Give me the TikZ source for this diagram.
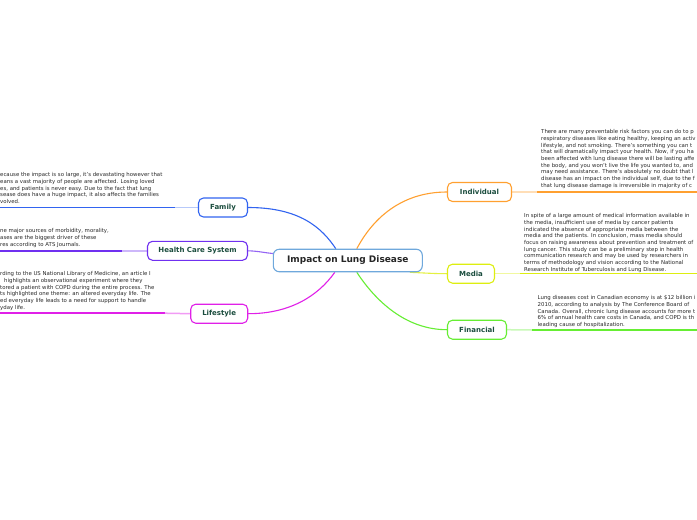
\documentclass[tikz,border=0pt]{standalone}
\usepackage{fontspec}
\setmainfont{DejaVu Sans}
\usetikzlibrary{backgrounds}
\definecolor{famc}{HTML}{3264F0}
\definecolor{hcsc}{HTML}{7030F0}
\definecolor{lifc}{HTML}{E020E8}
\definecolor{indc}{HTML}{FFA030}
\definecolor{medc}{HTML}{DDEE10}
\definecolor{finc}{HTML}{66EE33}
\definecolor{cblue}{HTML}{6FA8DC}
\definecolor{tgreen}{HTML}{1B4D3E}
\definecolor{ntext}{HTML}{2A2A2A}
\begin{document}
\begin{tikzpicture}[x=1pt,y=-1pt,
  topic/.style={draw, rounded corners=5pt, fill=white, line width=1.1pt, inner sep=0pt,
    minimum height=19pt, font=\fontsize{7}{8}\selectfont\bfseries, text=tgreen},
  central/.style={draw=cblue, rounded corners=6pt, fill=white, line width=1.1pt, inner sep=0pt,
    minimum width=149pt, minimum height=22.5pt, font=\fontsize{9}{10}\selectfont\bfseries, text=black!85},
  note/.style={anchor=north west, inner sep=0pt, align=left,
    font=\fontsize{5.4}{6.7}\selectfont, text=ntext},
  link/.style={line width=1.1pt},
  uline/.style={line width=1.5pt}]
\useasboundingbox (0,0) rectangle (697,520);
\clip (0,0) rectangle (697,520);

% nodes
\node[central] (c) at (347.8,260.5) {Impact on Lung Disease};
\node[topic, draw=famc, minimum width=49pt] (fam) at (223,207.5) {Family};
\node[topic, draw=hcsc, minimum width=100pt] (hcs) at (197.5,250.8) {Health Care System};
\node[topic, draw=lifc, minimum width=57pt] (lif) at (219.2,313.7) {Lifestyle};
\node[topic, draw=indc, minimum width=64pt] (ind) at (479.5,192) {Individual};
\node[topic, draw=medc, minimum width=47pt] (med) at (471,273.7) {Media};
\node[topic, draw=finc, minimum width=59pt] (fin) at (477,329.7) {Financial};

% texts
\node[note] (tfam) at (0,172.4) {ecause the impact is so large, it's devastating however that\\
eans a vast majority of people are affected. Losing loved\\
es, and patients is never easy. Due to the fact that lung\\
sease does have a huge impact, it also affects the families\\
volved.};
\node[note] (thcs) at (0,228.4) {ne major sources of morbidity, morality,\\
ases are the biggest driver of these\\
res according to ATS Journals.};
\node[note] (tlif) at (0,271.4) {rding to the US National Library of Medicine, an article I\\
\hspace*{4pt}highlights an observational experiment where they\\
tored a patient with COPD during the entire process. The\\
ts highlighted one theme: an altered everyday life. The\\
ed everyday life leads to a need for support to handle\\
yday life.};
\node[note] (tind) at (541,129.4) {There are many preventable risk factors you can do to p\\
respiratory diseases like eating healthy, keeping an activ\\
lifestyle, and not smoking. There's something you can t\\
that will dramatically impact your health. Now, if you ha\\
been affected with lung disease there will be lasting affe\\
the body, and you won't live the life you wanted to, and\\
may need assistance. There's absolutely no doubt that l\\
disease has an impact on the individual self, due to the f\\
that lung disease damage is irreversible in majority of c};
\node[note] (tmed) at (524,213.4) {In spite of a large amount of medical information available in\\
the media, insufficient use of media by cancer patients\\
indicated the absence of appropriate media between the\\
media and the patients. In conclusion, mass media should\\
focus on raising awareness about prevention and treatment of\\
lung cancer. This study can be a preliminary step in health\\
communication research and may be used by researchers in\\
terms of methodology and vision according to the National\\
Research Institute of Tuberculosis and Lung Disease.};
\node[note] (tfin) at (537.5,295.4) {Lung diseases cost in Canadian economy is at \$12 billion i\\
2010, according to analysis by The Conference Board of\\
Canada. Overall, chronic lung disease accounts for more t\\
6\% of annual health care costs in Canada, and COPD is th\\
leading cause of hospitalization.};

% underline coordinates
\coordinate (fa1) at (0,207.5);   \coordinate (fa2) at (175,207.5);
\coordinate (ha1) at (0,250.8);   \coordinate (ha2) at (122,250.8);
\coordinate (la1) at (0,313.2);   \coordinate (la2) at (165,313.2);
\coordinate (ia1) at (537,192);   \coordinate (ia2) at (697,192);
\coordinate (ma1) at (520,273.7); \coordinate (ma2) at (697,273.7);
\coordinate (fi1) at (532,330);   \coordinate (fi2) at (697,330);

\begin{scope}[on background layer]
\fill[white] (0,0) rectangle (697,520);
% connectors
\draw[link, famc] ([xshift=-12pt]c.north) .. controls (322,228) and (300,207.5) .. (fam.east);
\draw[link, hcsc!75] (hcs.east) .. controls (258,251) and (266,253) .. ([yshift=7pt]c.west);
\draw[link, lifc] ([xshift=-13pt]c.south) .. controls (318,296) and (290,313.7) .. (lif.east);
\draw[link, indc] ([xshift=9pt]c.north) .. controls (372,220) and (400,192) .. (ind.west);
\draw[link, medc!80] ([xshift=62pt]c.south) .. controls (425,273) and (435,273.7) .. (med.west);
\draw[link, finc] ([xshift=9pt]c.south) .. controls (375,300) and (405,329.7) .. (fin.west);
% underlines
\draw[uline, famc] (fa1) -- (fa2);
\draw[uline, famc!35] (fa2) -- (fam.west);
\draw[uline, hcsc] (ha1) -- (ha2);
\draw[uline, hcsc!35] (ha2) -- (hcs.west);
\draw[uline, lifc] (la1) -- (la2);
\draw[uline, lifc!45] (la2) -- (lif.west);
\draw[uline, indc!35] (ind.east) -- (ia1);
\draw[uline, indc] (ia1) -- (ia2);
\draw[uline, medc!40] (med.east) -- (ma1);
\draw[uline, medc] (ma1) -- (ma2);
\draw[uline, finc!35] (fin.east) -- (fi1);
\draw[uline, finc] (fi1) -- (fi2);
\end{scope}
\end{tikzpicture}
\end{document}
